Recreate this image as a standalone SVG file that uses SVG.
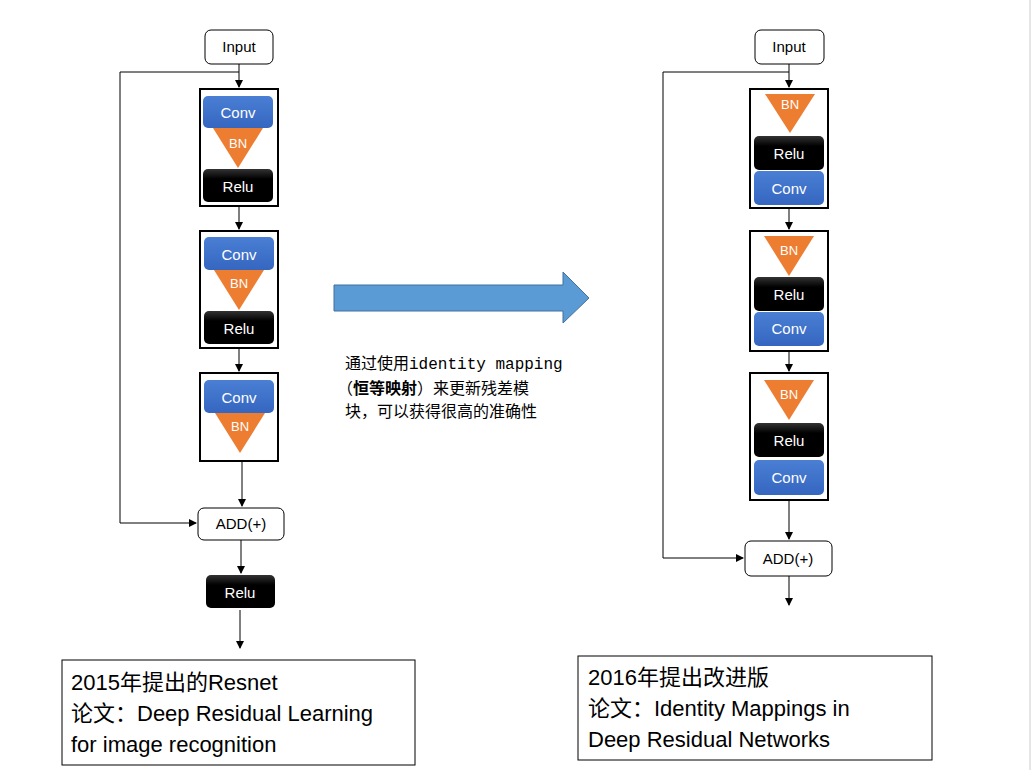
<svg xmlns="http://www.w3.org/2000/svg" width="1034" height="770" viewBox="0 0 1034 770">
<defs>
<marker id="ah" markerWidth="8" markerHeight="8" refX="7" refY="4" orient="auto" markerUnits="userSpaceOnUse"><path d="M0,0 L8,4 L0,8 z" fill="#000"/></marker>
<linearGradient id="gb" x1="0" y1="0" x2="0" y2="1"><stop offset="0" stop-color="#4a7fd4"/><stop offset="1" stop-color="#3566c0"/></linearGradient>
<linearGradient id="gk" x1="0" y1="0" x2="0" y2="1"><stop offset="0" stop-color="#333"/><stop offset="0.3" stop-color="#000"/><stop offset="1" stop-color="#000"/></linearGradient>
</defs>
<style>
text{font-family:"Liberation Sans","Noto Sans CJK SC",sans-serif}
.w{fill:#fff;stroke:#000;stroke-width:1}
.blk{fill:#fff;stroke:#000;stroke-width:2}
.conv{fill:url(#gb)}
.relu{fill:url(#gk)}
.bn{fill:#ed7d31}
.lt{fill:#fff;font-size:15px;text-anchor:middle}
.bt{fill:#fff;font-size:13px;text-anchor:middle}
.nt{fill:#000;font-size:15px;text-anchor:middle}
.c{fill:none;stroke:#000;stroke-width:1}
.cap{font-size:22px;fill:#000}
.mid{font-size:16px;fill:#000}
</style>
<rect width="1034" height="770" fill="#fff"/>
<line x1="1030" y1="0" x2="1030" y2="770" stroke="#ccc"/>
<g id="connectors">
<path class="c" d="M239,64 V87" marker-end="url(#ah)"/>
<path class="c" d="M239,72 H120 V523 H196" marker-end="url(#ah)"/>
<path class="c" d="M239,206 V229" marker-end="url(#ah)"/>
<path class="c" d="M239,348 V371" marker-end="url(#ah)"/>
<path class="c" d="M242,461 V506" marker-end="url(#ah)"/>
<path class="c" d="M241,540 V573" marker-end="url(#ah)"/>
<path class="c" d="M240,610 V648" marker-end="url(#ah)"/>
<path class="c" d="M789,64 V87" marker-end="url(#ah)"/>
<path class="c" d="M789,72 H663 V558 H743" marker-end="url(#ah)"/>
<path class="c" d="M789,208 V229" marker-end="url(#ah)"/>
<path class="c" d="M789,351 V371" marker-end="url(#ah)"/>
<path class="c" d="M789,500 V539" marker-end="url(#ah)" stroke-width="1.5"/>
<path class="c" d="M789,576 V605" marker-end="url(#ah)" stroke-width="1.5"/>
</g>
<g id="input-l"><rect class="w" x="205" y="30" width="68" height="34" rx="6"/><text class="nt" x="239" y="52">Input</text></g>
<g id="block1-l"><rect class="blk" x="200" y="89" width="78" height="117"/>
<rect class="conv" x="203" y="96" width="70" height="32" rx="5"/><text class="lt" x="238" y="118">Conv</text>
<path class="bn" d="M213,128 H263 L238,168 z"/><text class="bt" x="238" y="148">BN</text>
<rect class="relu" x="203" y="169" width="70" height="33" rx="5"/><text class="lt" x="238" y="192">Relu</text></g>
<g id="block2-l"><rect class="blk" x="200" y="231" width="78" height="117"/>
<rect class="conv" x="204" y="237" width="70" height="33" rx="5"/><text class="lt" x="239" y="260">Conv</text>
<path class="bn" d="M214,270 H264 L239,310 z"/><text class="bt" x="239" y="288">BN</text>
<rect class="relu" x="204" y="311" width="70" height="33" rx="5"/><text class="lt" x="239" y="334">Relu</text></g>
<g id="block3-l"><rect class="blk" x="200" y="373" width="78" height="88"/>
<rect class="conv" x="204" y="380" width="70" height="33" rx="5"/><text class="lt" x="239" y="403">Conv</text>
<path class="bn" d="M215,413 H265 L240,453 z"/><text class="bt" x="240" y="431">BN</text></g>
<g id="add-l"><rect class="w" x="198" y="508" width="86" height="32" rx="6"/><text class="nt" x="241" y="529">ADD(+)</text></g>
<g id="relu-l"><rect class="relu" x="206" y="575" width="69" height="33" rx="5"/><text class="lt" x="240" y="598">Relu</text></g>
<g id="caption-l"><rect class="w" x="62" y="660" width="353" height="105"/>
<text class="cap" x="71" y="690">2015年提出的Resnet</text>
<text class="cap" x="71" y="721">论文：Deep Residual Learning</text>
<text class="cap" x="71" y="752">for image recognition</text></g>
<g id="arrow"><path d="M334,285 H563 V272 L589,298 L563,323 V311 H334 z" fill="#5b9bd5" stroke="#41719c" stroke-width="1"/></g>
<g id="note">
<text class="mid" x="345" y="369">通过使用<tspan font-family="Liberation Mono,monospace">identity mapping</tspan></text>
<text class="mid" x="337" y="394">（<tspan font-weight="bold">恒等映射</tspan>）来更新残差模</text>
<text class="mid" x="345" y="417">块，可以获得很高的准确性</text></g>
<g id="input-r"><rect class="w" x="755" y="30" width="69" height="34" rx="6"/><text class="nt" x="789" y="52">Input</text></g>
<g id="block1-r"><rect class="blk" x="750" y="89" width="78" height="119"/>
<path class="bn" d="M765,94 H815 L790,133 z"/><text class="bt" x="790" y="109">BN</text>
<rect class="relu" x="754" y="136" width="70" height="34" rx="5"/><text class="lt" x="789" y="159">Relu</text>
<rect class="conv" x="754" y="171" width="70" height="34" rx="5"/><text class="lt" x="789" y="194">Conv</text></g>
<g id="block2-r"><rect class="blk" x="750" y="231" width="78" height="120"/>
<path class="bn" d="M764,236 H814 L789,276 z"/><text class="bt" x="789" y="255">BN</text>
<rect class="relu" x="754" y="277" width="70" height="34" rx="5"/><text class="lt" x="789" y="300">Relu</text>
<rect class="conv" x="754" y="312" width="70" height="34" rx="5"/><text class="lt" x="789" y="334">Conv</text></g>
<g id="block3-r"><rect class="blk" x="750" y="373" width="78" height="127"/>
<path class="bn" d="M764,380 H814 L789,420 z"/><text class="bt" x="789" y="399">BN</text>
<rect class="relu" x="754" y="423" width="70" height="34" rx="5"/><text class="lt" x="789" y="446">Relu</text>
<rect class="conv" x="754" y="460" width="70" height="35" rx="5"/><text class="lt" x="789" y="483">Conv</text></g>
<g id="add-r"><rect class="w" x="745" y="541" width="87" height="35" rx="6"/><text class="nt" x="788" y="564">ADD(+)</text></g>
<g id="caption-r"><rect class="w" x="578" y="656" width="354" height="104"/>
<text class="cap" x="588" y="685">2016年提出改进版</text>
<text class="cap" x="588" y="716">论文：Identity Mappings in</text>
<text class="cap" x="588" y="747">Deep Residual Networks</text></g>
</svg>
